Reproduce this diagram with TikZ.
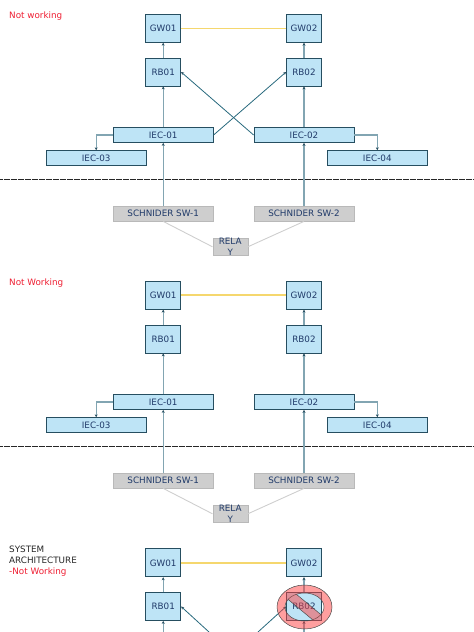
\documentclass[tikz,border=0pt]{standalone}
\usepackage{xcolor}
\usepackage{fontspec}
\setmainfont{DejaVu Sans}
\usetikzlibrary{arrows.meta, positioning, calc}
\definecolor{scInk}{RGB}{32,58,105}
\definecolor{scBlue}{RGB}{190,228,246}
\definecolor{scEdge}{RGB}{38,78,96}
\definecolor{scLink}{RGB}{130,165,178}
\definecolor{scCross}{RGB}{40,105,125}
\definecolor{scGrey}{RGB}{206,206,206}
\definecolor{scGold}{RGB}{245,215,110}
\definecolor{scRed}{RGB}{238,30,50}

\begin{document}
\begin{tikzpicture}[x=1pt,y=-1pt,
  lbl/.style={font=\fontsize{8.8}{10.8}\selectfont,inner sep=0pt,align=left,anchor=west,text=scRed},
  box/.style={draw=scEdge,line width=0.8pt,fill=scBlue,text=scInk,inner sep=0pt,
              font=\fontsize{8.8}{10.5}\selectfont,align=center},
  sq/.style={box,minimum width=35pt,minimum height=28pt},
  bar/.style={box,minimum width=100pt,minimum height=15pt},
  sw/.style={bar,fill=scGrey,draw=scGrey!90!black,line width=0.4pt},
  rly/.style={sw,minimum width=35pt,minimum height=16pt},
  lnk/.style={draw=scLink,line width=1.3pt,-{Stealth[length=3pt,width=3pt,color=scEdge]}},
  xlnk/.style={draw=scCross,line width=0.8pt,-{Stealth[length=3pt,width=3pt,color=scEdge]}},
  gld/.style={draw=scGold,line width=1.6pt},
  gry/.style={draw=scGrey,line width=0.9pt},
  sep/.style={draw=black!85,line width=1pt,dash pattern=on 3pt off 0.5pt}]

\useasboundingbox (0,0) rectangle (474,632);

% ===== Panel 1: Not working =====
\node[lbl] (t1) at (9,15.7) {Not working};
\coordinate (s1l) at (0,179);
\coordinate (s1r) at (474,179);
\draw[sep] (s1l) -- (s1r);
\node[sq] (gw1) at (163.2,28.3) {GW01};
\node[sq] (gw2) at (304,28.3) {GW02};
\node[sq] (rb1) at (163.2,72) {RB01};
\node[sq] (rb2) at (304,72) {RB02};
\node[bar] (iec1) at (163.2,135) {IEC-01};
\node[bar] (iec2) at (304,135) {IEC-02};
\node[bar] (iec3) at (96.2,158.2) {IEC-03};
\node[bar] (iec4) at (377.3,158.2) {IEC-04};
\node[sw] (sw1) at (163.2,213.7) {SCHNIDER SW-1};
\node[sw] (sw2) at (304,213.7) {SCHNIDER SW-2};
\node[rly] (rly) at (230.2,246.8) {RELA\\Y};
\draw[gld] (gw1) -- (gw2);
\draw[lnk] (rb1) -- (gw1);
\draw[lnk] (rb2) -- (gw2);
\draw[lnk] (iec1) -- (rb1);
\draw[lnk] (iec2) -- (rb2);
\draw[xlnk] (iec1.east) -- (rb2.west);
\draw[xlnk] (iec2.west) -- (rb1.east);
\draw[lnk] (iec1.west) -| (iec3.north);
\draw[lnk] (iec2.east) -| (iec4.north);
\draw[lnk] (sw1) -- (iec1);
\draw[lnk] (sw2) -- (iec2);
\draw[gry] (sw1.south) -- (rly.west);
\draw[gry] (sw2.south) -- (rly.east);

% ===== Panel 2: Not Working =====
\node[lbl] (t2) at (9,282.7) {Not Working};
\coordinate (s2l) at (0,446);
\coordinate (s2r) at (474,446);
\draw[sep] (s2l) -- (s2r);
\node[sq] (gw1b) at (163.2,295.2) {GW01};
\node[sq] (gw2b) at (304,295.2) {GW02};
\node[sq] (rb1b) at (163.2,339) {RB01};
\node[sq] (rb2b) at (304,339) {RB02};
\node[bar] (iec1b) at (163.2,402) {IEC-01};
\node[bar] (iec2b) at (304,402) {IEC-02};
\node[bar] (iec3b) at (96.2,425.2) {IEC-03};
\node[bar] (iec4b) at (377.3,425.2) {IEC-04};
\node[sw] (sw1b) at (163.2,480.7) {SCHNIDER SW-1};
\node[sw] (sw2b) at (304,480.7) {SCHNIDER SW-2};
\node[rly] (rlyb) at (230.2,513.8) {RELA\\Y};
\draw[gld] (gw1b) -- (gw2b);
\draw[lnk] (rb1b) -- (gw1b);
\draw[lnk] (rb2b) -- (gw2b);
\draw[lnk] (iec1b) -- (rb1b);
\draw[lnk] (iec2b) -- (rb2b);
\draw[lnk] (iec1b.west) -| (iec3b.north);
\draw[lnk] (iec2b.east) -| (iec4b.north);
\draw[lnk] (sw1b) -- (iec1b);
\draw[lnk] (sw2b) -- (iec2b);
\draw[gry] (sw1b.south) -- (rlyb.west);
\draw[gry] (sw2b.south) -- (rlyb.east);

% ===== Panel 3: System architecture =====
\node[lbl,text=black!85] (t3) at (9,561)
  {SYSTEM\\ARCHITECTURE\\\textcolor{scRed}{-Not Working}};
\node[sq] (gw1c) at (163.2,562.8) {GW01};
\node[sq] (gw2c) at (304,562.8) {GW02};
\node[sq] (rb1c) at (163.2,606.5) {RB01};
\node[sq] (rb2c) at (304,606.5) {RB02};
\coordinate (e1) at (163.2,632);
\coordinate (e2) at (304,632);
\coordinate (e3) at (209,632);
\coordinate (e4) at (258,632);
\draw[gld] (gw1c) -- (gw2c);
\draw[lnk] (rb1c) -- (gw1c);
\draw[lnk] (rb2c) -- (gw2c);
\draw[lnk] (e1) -- (rb1c);
\draw[lnk] (e2) -- (rb2c);
\draw[xlnk] (e3) -- (rb1c.east);
\draw[xlnk] (e4) -- (rb2c.west);

% failed unit mark
\fill[red!75!white,fill opacity=0.5,even odd rule]
  (304.5,607) ellipse [x radius=27.5,y radius=22]
  (304.5,607) ellipse [x radius=19.5,y radius=14];
\draw[black!70,line width=0.5pt] (304.5,607) ellipse [x radius=27.5,y radius=22];
\draw[black!70,line width=0.5pt] (304.5,607) ellipse [x radius=19.5,y radius=14];
\begin{scope}
  \clip (304.5,607) ellipse [x radius=19.5,y radius=14];
  \fill[red!75!white,fill opacity=0.5,draw=black!70,draw opacity=1,line width=0.5pt]
    (284,596) -- (290,589) -- (325,618) -- (319,625) -- cycle;
\end{scope}
\end{tikzpicture}
\end{document}
